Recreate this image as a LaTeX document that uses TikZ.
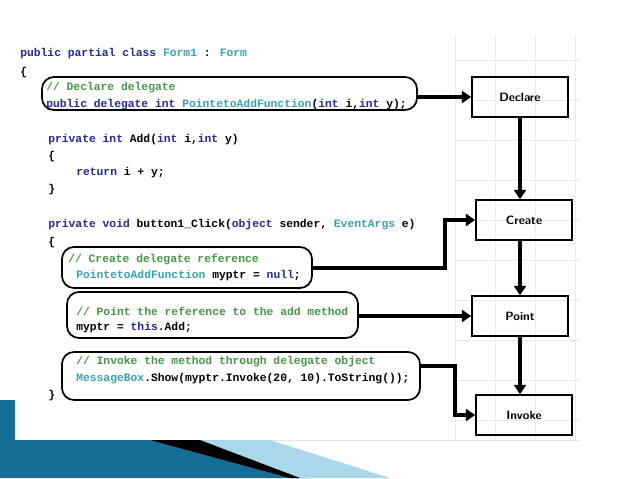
\documentclass[tikz,border=0pt]{standalone}
\usepackage{fontspec}
\setmainfont{Liberation Sans}
\newfontfamily\codefont{Liberation Mono}
\usetikzlibrary{arrows.meta}
\definecolor{kw}{RGB}{40,40,150}
\definecolor{ty}{RGB}{60,160,180}
\definecolor{cm}{RGB}{70,150,70}
\definecolor{bluea}{RGB}{20,110,150}
\definecolor{blueb}{RGB}{170,215,235}
\newcommand{\K}[1]{\textcolor{kw}{#1}}
\newcommand{\T}[1]{\textcolor{ty}{#1}}
\newcommand{\C}[1]{\textcolor{cm}{#1}}
\begin{document}
\begin{tikzpicture}[x=0.75pt,y=-0.75pt,
  code/.style={anchor=west,inner sep=0pt,font=\codefont\fontsize{8.5}{10}\selectfont\bfseries},
  grp/.style={draw,line width=1.3pt,rounded corners=9pt},
  stepbox/.style={draw,line width=1.2pt,minimum width=72pt,minimum height=30pt,font=\sffamily\bfseries\small},
  conn/.style={line width=2.4pt,-{Triangle[length=7pt,width=9pt]}}]
\useasboundingbox (0,0) rectangle (638,478);
\fill[white] (0,0) rectangle (638,478);
% grid
\foreach \x in {455,495,535,575} \draw[black!8] (\x,35) -- (\x,440);
\foreach \y in {60,100,140,180,220,260,300,340,380,420} \draw[black!8] (455,\y) -- (580,\y);
\draw[black!10] (15,440) -- (580,440);
% decoration
\fill[bluea] (0,400) -- (15,400) -- (15,440) -- (150,440) -- (310,478) -- (0,478) -- cycle;
\fill[blueb] (200,440) -- (270,440) -- (390,478) -- (300,478) -- cycle;
\fill[black] (150,440) -- (200,440) -- (300,478) -- (290,478) -- cycle;
% code
\node[code] (l1) at (20,54) {\K{public partial class} \T{Form1} : \T{Form}};
\node[code] (l2) at (20,73) {\{};
\node[code] (c1a) at (46,88) {\C{// Declare delegate}};
\node[code] (c1b) at (46,105) {\K{public delegate int} \T{PointetoAddFunction}(\K{int} i,\K{int} y);};
\node[code] (l3) at (48,140) {\K{private int} Add(\K{int} i,\K{int} y)};
\node[code] (l4) at (48,157) {\{};
\node[code] (l5) at (76,173) {\K{return} i + y;};
\node[code] (l6) at (48,190) {\}};
\node[code] (l7) at (48,225) {\K{private void} button1\_Click(\K{object} sender, \T{EventArgs} e)};
\node[code] (l8) at (48,243) {\{};
\node[code] (c2a) at (68,260) {\C{// Create delegate reference}};
\node[code] (c2b) at (76,276) {\T{PointetoAddFunction} myptr = \K{null};};
\node[code] (c3a) at (76,311) {\C{// Point the reference to the add method}};
\node[code] (c3b) at (76,328) {myptr = \K{this}.Add;};
\node[code] (c4a) at (76,362) {\C{// Invoke the method through delegate object}};
\node[code] (c4b) at (76,379) {\T{MessageBox}.Show(myptr.Invoke(20, 10).ToString());};
\node[code] (l9) at (48,396) {\}};
% groups
\draw[grp] (42,77) rectangle (417,110);
\draw[grp] (62,247) rectangle (312,288);
\draw[grp] (67,292) rectangle (358,338);
\draw[grp] (62,352) rectangle (420,400);
\coordinate (g1) at (417,97);
\coordinate (g2) at (312,268);
\coordinate (g3) at (358,316);
\coordinate (g4) at (420,366);
% steps
\node[stepbox] (d) at (520,97) {Declare};
\node[stepbox] (cr) at (524,220) {Create};
\node[stepbox] (p) at (520,316) {Point};
\node[stepbox] (iv) at (524,415) {Invoke};
\draw[conn] (g1) -- (d.west);
\draw[conn] (d.south) -- (d.south |- cr.north);
\draw[conn] (g2) -- (445,268) |- (cr.west);
\draw[conn] (g3) -- (p.west);
\draw[conn] (cr.south) ++(-4,0) coordinate (cs) -- (cs |- p.north);
\draw[conn] (p.south) -- (p.south |- iv.north);
\draw[conn] (g4) -- (455,366) |- (iv.west);
\end{tikzpicture}
\end{document}
